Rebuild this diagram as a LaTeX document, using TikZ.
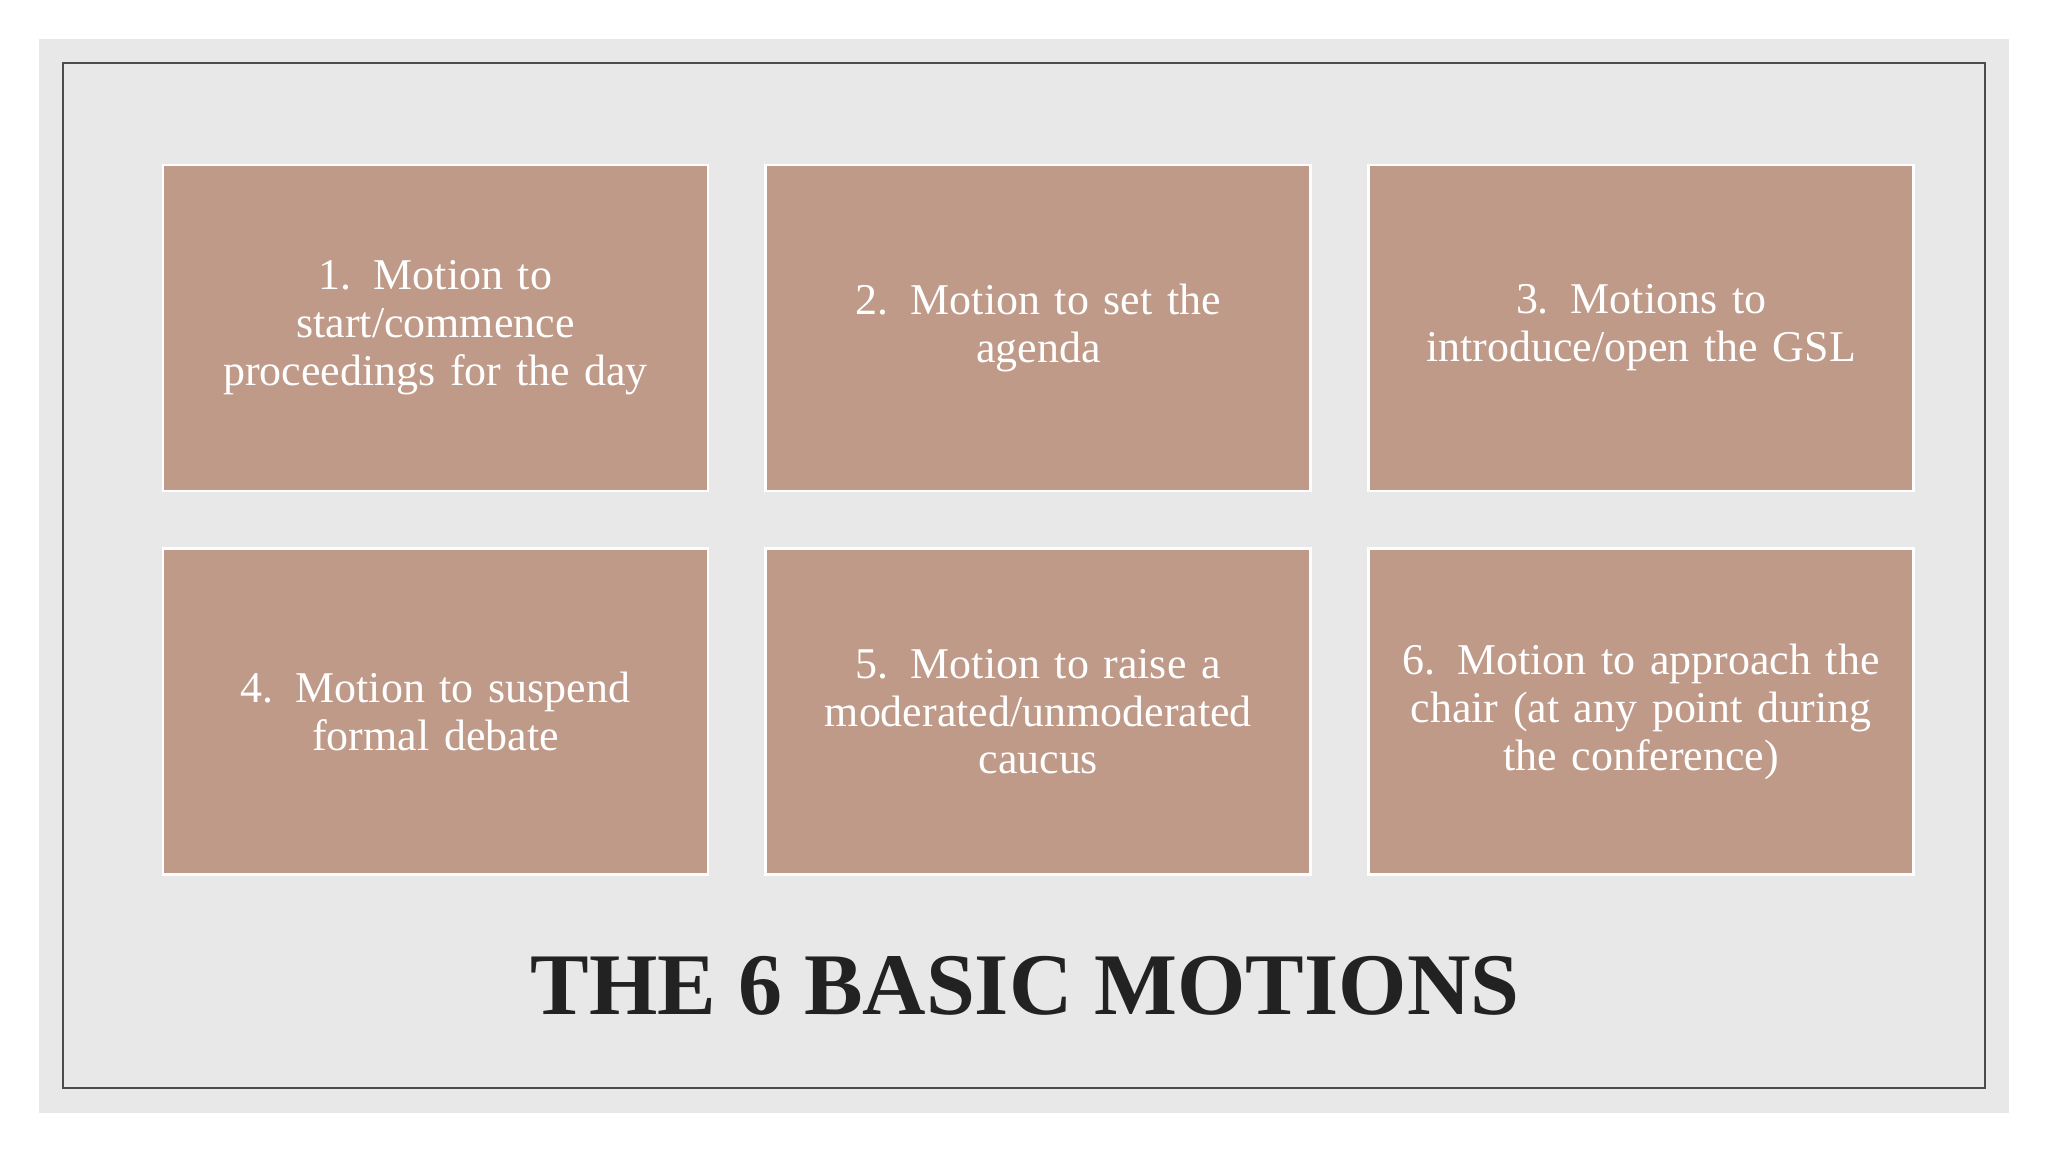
\documentclass[tikz,border=0pt]{standalone}
\usepackage{fontspec}
\setmainfont{Liberation Serif}
\usetikzlibrary{positioning}
\definecolor{slidegrey}{HTML}{E8E8E8}
\definecolor{motionfill}{HTML}{BF9A89}
\definecolor{titleink}{HTML}{222222}

\begin{document}
\begin{tikzpicture}[node distance=0.55cm]
\tikzstyle{motion}=[draw=white,line width=0.8pt,fill=motionfill,text=white,align=center,
  minimum width=5.45cm,minimum height=3.26cm,text width=5.0cm,font=\fontsize{12.5}{13.6}\selectfont]
\useasboundingbox (0,0) rectangle (20.48,11.52);
\fill[white] (0,0) rectangle (20.48,11.52);
\fill[slidegrey] (0.39,0.39) rectangle (20.09,11.13);
\draw[black!70,line width=0.6pt] (0.63,0.64) rectangle (19.85,10.89);

\node[motion] (m1) at (4.355,8.24) {1. Motion to\\start/commence\\proceedings for the day};
\node[motion,right=of m1] (m2) {2. Motion to set the\\agenda};
\node[motion,right=of m2] (m3) {3. Motions to\\introduce/open the GSL};
\node[motion,below=of m1] (m4) {4. Motion to suspend\\formal debate};
\node[motion,right=of m4] (m5) {5. Motion to raise a\\moderated/unmoderated\\caucus};
\node[motion,right=of m5] (m6) {6. Motion to approach the\\chair (at any point during\\the conference)};

\node[text=titleink,font=\fontsize{25}{28}\selectfont\bfseries] (title) at (10.25,1.66) {THE 6 BASIC MOTIONS};
\end{tikzpicture}
\end{document}
